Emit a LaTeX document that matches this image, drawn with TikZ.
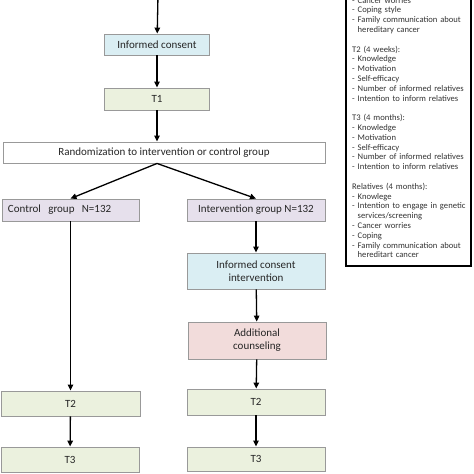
\documentclass[tikz,border=0pt]{standalone}
\usepackage{fontspec}
\setmainfont{Carlito}
\usetikzlibrary{arrows.meta}
\definecolor{consentblue}{HTML}{DAEEF3}
\definecolor{measgreen}{HTML}{EBF1DE}
\definecolor{grouplav}{HTML}{E6E0EC}
\definecolor{counspink}{HTML}{F2DCDB}
\tikzset{box/.style={draw=black!40,line width=0.9pt,inner sep=2pt,align=center,font=\fontsize{11}{13}\selectfont,text=black!85},
         flow/.style={line width=1.3pt,-{Triangle[length=6pt,width=5.5pt]}}
}
\begin{document}
\begin{tikzpicture}[x=1pt,y=-1pt]
  \useasboundingbox (0,0) rectangle (474,474);
  \clip (0,0) rectangle (474,474);
  \coordinate (top) at (158,-5);
  \node[box,fill=consentblue,minimum width=105pt,minimum height=21pt](consent) at (157,44.5){Informed consent};
  \node[box,fill=measgreen,minimum width=105pt,minimum height=22pt](t1) at (157,99){T1};
  \node[box,fill=white,minimum width=322pt,minimum height=21pt](rand) at (164,152.5){Randomization to intervention or control group};
  \node[box,fill=grouplav,minimum width=137pt,minimum height=22pt,text width=125pt,align=left](ctrl) at (70.5,210){Control\ \ group\ \ N=132};
  \node[box,fill=grouplav,minimum width=138pt,minimum height=22pt](intv) at (256,210){Intervention group N=132};
  \node[box,fill=consentblue,minimum width=138pt,minimum height=36pt](icint) at (256,271){Informed consent\\intervention};
  \node[box,fill=counspink,minimum width=138pt,minimum height=37pt](addc) at (257,340.5){Additional\\counseling};
  \node[box,fill=measgreen,minimum width=139pt,minimum height=25pt](t2l) at (70.5,403.5){T2};
  \node[box,fill=measgreen,minimum width=138pt,minimum height=26pt](t2r) at (256,402){T2};
  \node[box,fill=measgreen,minimum width=138pt,minimum height=25pt](t3l) at (70,459.5){T3};
  \node[box,fill=measgreen,minimum width=138pt,minimum height=24pt](t3r) at (256,459){T3};
  % outcome measures
  \draw[line width=1.2pt](346,-10)rectangle(471,266);
  \node[anchor=north west,inner sep=0,text width=122pt,align=left,font=\fontsize{8.6}{9.8}\selectfont,text=black!80](meas) at (352,-3){%
    - Cancer worries\\
    - Coping style\\
    - Family communication about\\
    \phantom{- }hereditary cancer\\[9.8pt]
    T2 (4 weeks):\\
    - Knowledge\\
    - Motivation\\
    - Self-efficacy\\
    - Number of informed relatives\\
    - Intention to inform relatives\\[9.8pt]
    T3 (4 months):\\
    - Knowledge\\
    - Motivation\\
    - Self-efficacy\\
    - Number of informed relatives\\
    - Intention to inform relatives\\[9.8pt]
    Relatives (4 months):\\
    - Knowlege\\
    - Intention to engage in genetic\\
    \phantom{- }services/screening\\
    - Cancer worries\\
    - Coping\\
    - Family communication about\\
    \phantom{- }hereditart cancer};
  % arrows
  \draw[flow](top)--(consent);
  \draw[flow](consent)--(t1);
  \draw[flow](t1)--(t1|-rand.north);
  \draw[flow](t1|-rand.south)--(ctrl.north);
  \draw[flow](t1|-rand.south)--(intv.north);
  \draw[flow](ctrl)--(t2l);
  \draw[flow](t2l)--(t3l);
  \draw[flow](intv)--(icint);
  \draw[flow](icint)--(addc);
  \draw[flow](addc)--(t2r);
  \draw[flow](t2r)--(t3r);
\end{tikzpicture}
\end{document}
